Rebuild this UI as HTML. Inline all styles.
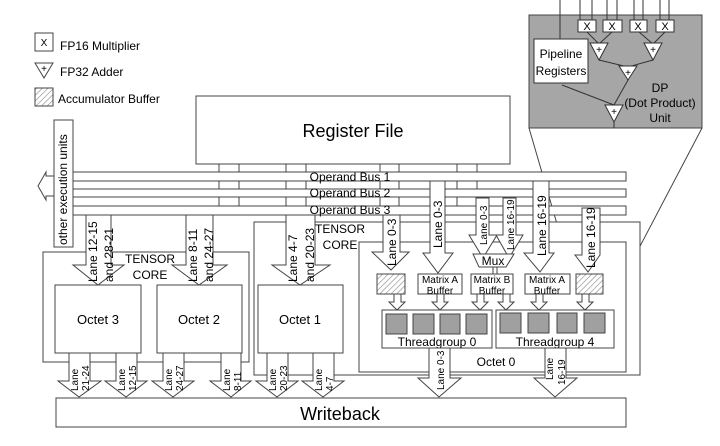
<!DOCTYPE html>
<html><head><style>html,body{margin:0;padding:0;background:#fff}svg{display:block}</style></head><body>
<svg width="720" height="446" viewBox="0 0 720 446" xmlns="http://www.w3.org/2000/svg" font-family="Liberation Sans, sans-serif" fill="none" stroke="#444" stroke-width="1">
<defs><pattern id="h" width="4" height="4" patternUnits="userSpaceOnUse" patternTransform="rotate(45)"><rect width="4" height="4" fill="#fff" stroke="none"/><line x1="0" y1="0" x2="0" y2="4" stroke="#888" stroke-width="1.2"/></pattern></defs>
<!-- legend -->
<rect x="35" y="33" width="18" height="18" fill="#fff"/><text x="44" y="46" font-size="10" fill="#000" stroke="none" text-anchor="middle">X</text>
<text x="60" y="50" font-size="12" fill="#000" stroke="none">FP16 Multiplier</text>
<polygon points="35,63 53,63 44,78" fill="#fff"/><text x="44" y="72" font-size="10" fill="#000" stroke="none" text-anchor="middle">+</text>
<text x="60" y="76" font-size="12" fill="#000" stroke="none">FP32 Adder</text>
<rect x="35" y="88" width="18" height="18" fill="url(#h)"/>
<text x="58" y="103" font-size="12" fill="#000" stroke="none">Accumulator Buffer</text>
<!-- DP unit -->
<line x1="529" y1="128" x2="583" y2="313"/><line x1="702" y1="128" x2="605" y2="313"/>
<rect x="529" y="15" width="173" height="113" fill="#a6a6a6"/>
<g stroke="#333">
<line x1="560" y1="0" x2="560" y2="40"/>
<line x1="580" y1="0" x2="580" y2="20"/><line x1="592" y1="0" x2="592" y2="20"/>
<line x1="607" y1="0" x2="607" y2="20"/><line x1="617" y1="0" x2="617" y2="20"/>
<line x1="634" y1="0" x2="634" y2="20"/><line x1="643" y1="0" x2="643" y2="20"/>
<line x1="660" y1="0" x2="660" y2="20"/><line x1="669" y1="0" x2="669" y2="20"/>
<line x1="587" y1="32" x2="599" y2="44"/><line x1="612" y1="32" x2="599" y2="44"/>
<line x1="639" y1="32" x2="653" y2="44"/><line x1="665" y1="32" x2="653" y2="44"/>
<line x1="599" y1="60" x2="628" y2="67"/><line x1="653" y1="60" x2="628" y2="67"/>
<line x1="628" y1="80" x2="614" y2="105"/><line x1="562" y1="85" x2="614" y2="105"/>
<line x1="614" y1="122" x2="614" y2="128"/>
</g>
<g fill="#fff" stroke="#333">
<rect x="578" y="20" width="18" height="12"/><rect x="603" y="20" width="19" height="12"/><rect x="630" y="20" width="17" height="12"/><rect x="656" y="20" width="18" height="12"/>
<polygon points="590,43 608,43 599,60"/><polygon points="644,43 662,43 653,60"/><polygon points="619,66 637,66 628,80"/><polygon points="605,105 623,105 614,122"/>
<rect x="534" y="39" width="54" height="44"/>
</g>
<g fill="#000" stroke="none" font-size="11" text-anchor="middle">
<text x="587" y="30">X</text><text x="612" y="30">X</text><text x="638" y="30">X</text><text x="665" y="30">X</text>
<text x="599" y="53" font-size="10">+</text><text x="653" y="53" font-size="10">+</text><text x="628" y="76" font-size="10">+</text><text x="614" y="115" font-size="10">+</text>
<text x="561" y="58" font-size="12">Pipeline</text><text x="561" y="75" font-size="12">Registers</text>
<text x="660" y="92" font-size="12">DP</text><text x="660" y="107" font-size="12">(Dot Product)</text><text x="660" y="122" font-size="12">Unit</text>
</g>
<!-- register file -->
<rect x="196" y="96" width="314" height="68" fill="#fff"/>
<text x="353" y="137" font-size="18" fill="#000" stroke="none" text-anchor="middle">Register File</text>
<!-- other exec -->
<rect x="54" y="120" width="19" height="127" fill="#fff"/>
<polygon points="54,176 46,176 46,172 38,186 46,200 46,196 54,196" fill="#fff"/>
<text transform="translate(67,245) rotate(-90)" font-size="12" fill="#000" stroke="none">other execution units</text>
<!-- buses -->
<g fill="#fff"><rect x="73" y="172" width="553" height="9"/><rect x="73" y="189" width="553" height="8"/><rect x="73" y="206" width="553" height="9"/></g>
<g>
<rect x="219" y="164" width="20" height="8"/><rect x="286" y="164" width="20" height="8"/><rect x="380" y="164" width="19" height="8"/><rect x="457" y="164" width="20" height="8"/>
<rect x="219" y="181" width="20" height="8"/><rect x="286" y="181" width="20" height="8"/><rect x="380" y="181" width="19" height="8"/><rect x="457" y="181" width="20" height="8"/>
<rect x="219" y="197" width="20" height="9"/><rect x="286" y="197" width="20" height="9"/><rect x="380" y="197" width="19" height="9"/><rect x="457" y="197" width="20" height="9"/>
</g>
<g fill="#000" stroke="none" font-size="12" text-anchor="middle">
<text x="350" y="181">Operand Bus 1</text><text x="350" y="197">Operand Bus 2</text><text x="350" y="214">Operand Bus 3</text>
</g>
<!-- tensor core boxes -->
<rect x="43" y="252" width="206" height="110" fill="#fff"/>
<rect x="254" y="222" width="386" height="153" fill="#fff"/>
<rect x="359" y="242" width="267" height="130" fill="#fff"/>
<g fill="#000" stroke="none" font-size="12" text-anchor="middle">
<text x="150" y="263">TENSOR</text><text x="150" y="279">CORE</text>
<text x="340" y="233">TENSOR</text><text x="340" y="249">CORE</text>
</g>
<!-- octets -->
<g fill="#fff"><rect x="55" y="285" width="86" height="68"/><rect x="157" y="285" width="85" height="68"/><rect x="258" y="285" width="85" height="68"/></g>
<g fill="#000" stroke="none" font-size="13" text-anchor="middle">
<text x="98" y="324">Octet 3</text><text x="199" y="324">Octet 2</text><text x="300" y="324">Octet 1</text>
</g>
<!-- input arrows to octets -->
<g fill="#fff">
<polygon points="86,215 111,215 111,265 124,265 98,285 73,265 86,265"/>
<polygon points="186,215 213,215 213,265 227,265 199,285 172,265 186,265"/>
<polygon points="286,215 315,215 315,265 330,265 300,285 272,265 286,265"/>
</g>
<g fill="#000" stroke="none" font-size="12">
<text transform="translate(97,282) rotate(-90)">Lane 12-15</text><text transform="translate(113,282) rotate(-90)">and 28-21</text>
<text transform="translate(197,282) rotate(-90)">Lane 8-11</text><text transform="translate(213,282) rotate(-90)">and 24-27</text>
<text transform="translate(297,282) rotate(-90)">Lane 4-7</text><text transform="translate(314,282) rotate(-90)">and 20-23</text>
</g>
<!-- octet 0 internals -->
<g fill="#fff">
<polygon points="383,215 400,215 400,252 409,252 391,270 372,252 383,252"/>
<polygon points="430,181 445,181 445,253 453,253 438,273 423,253 430,253"/>
<polygon points="476,198 489,198 489,235 497,235 483,258 469,235 476,235"/>
<polygon points="503,198 516,198 516,235 523,235 509,258 496,235 503,235"/>
<polygon points="533,181 549,181 549,253 554,253 540,272 524,253 533,253"/>
<polygon points="582,208 600,208 600,255 600,255 588,272 575,255 582,255"/>
<polygon points="473,254 514,254 506,267 479,267"/>
</g>
<line x1="493" y1="267" x2="493" y2="274"/><line x1="497" y1="267" x2="497" y2="274"/>
<g fill="#000" stroke="none" font-size="12">
<text transform="translate(396,266) rotate(-90)">Lane 0-3</text>
<text transform="translate(442,248) rotate(-90)">Lane 0-3</text>
<text transform="translate(487,245) rotate(-90)" font-size="10">Lane 0-3</text>
<text transform="translate(514,250) rotate(-90)" font-size="10">Lane 16-19</text>
<text transform="translate(546,256) rotate(-90)">Lane 16-19</text>
<text transform="translate(595,268) rotate(-90)">Lane 16-19</text>
<text x="493" y="265" text-anchor="middle" font-size="12">Mux</text>
</g>
<g fill="#fff">
<rect x="377" y="274" width="28" height="20" fill="url(#h)"/>
<rect x="576" y="274" width="27" height="20" fill="url(#h)"/>
<rect x="418" y="274" width="44" height="20"/><rect x="471" y="274" width="42" height="20"/><rect x="525" y="274" width="45" height="20"/>
</g>
<g fill="#000" stroke="none" font-size="10" text-anchor="middle">
<text x="440" y="283">Matrix A</text><text x="440" y="294">Buffer</text>
<text x="492" y="283">Matrix B</text><text x="492" y="294">Buffer</text>
<text x="547" y="283">Matrix A</text><text x="547" y="294">Buffer</text>
</g>
<g fill="#fff">
<polygon points="394,294 401,294 401,302 405,302 397,310 389,302 394,302"/>
<polygon points="437,294 444,294 444,302 448,302 440,310 432,302 437,302"/>
<polygon points="477,294 484,294 484,302 488,302 480,310 472,302 477,302"/>
<polygon points="503,294 510,294 510,302 514,302 506,310 498,302 503,302"/>
<polygon points="536,294 543,294 543,302 547,302 539,310 531,302 536,302"/>
<polygon points="582,294 589,294 589,302 593,302 585,310 577,302 582,302"/>
</g>
<rect x="382" y="310" width="110" height="38" fill="#fff"/><rect x="496" y="310" width="118" height="38" fill="#fff"/>
<g fill="#a0a0a0">
<rect x="386" y="314" width="21" height="20"/><rect x="413" y="314" width="21" height="20"/><rect x="440" y="314" width="20" height="20"/><rect x="466" y="314" width="21" height="20"/>
<rect x="500" y="313" width="21" height="20"/><rect x="528" y="313" width="21" height="20"/><rect x="557" y="313" width="20" height="20"/><rect x="584" y="313" width="21" height="20"/>
</g>
<g fill="#000" stroke="none" font-size="12" text-anchor="middle">
<text x="437" y="346">Threadgroup 0</text><text x="555" y="346">Threadgroup 4</text>
</g>
<!-- writeback -->
<rect x="56" y="398" width="570" height="29" fill="#fff"/>
<text x="340" y="420" font-size="18" fill="#000" stroke="none" text-anchor="middle">Writeback</text>
<g fill="#fff">
<polygon points="69,353 90,353 90,381 101,381 79,397 58,381 69,381"/>
<polygon points="116,353 137,353 137,381 147,381 126,397 105,381 116,381"/>
<polygon points="163,353 184,353 184,381 194,381 173,397 152,381 163,381"/>
<polygon points="221,353 241,353 241,381 251,381 231,397 210,381 221,381"/>
<polygon points="267,353 288,353 288,381 298,381 277,397 256,381 267,381"/>
<polygon points="313,353 334,353 334,381 344,381 323,397 302,381 313,381"/>
<polygon points="429,348 450,348 450,378 461,378 439,397 418,378 429,378"/>
<polygon points="545,348 566,348 566,378 577,378 555,397 534,378 545,378"/>
</g>
<text x="496" y="366" font-size="12" fill="#000" stroke="none" text-anchor="middle">Octet 0</text>
<g fill="#000" stroke="none" font-size="10">
<text transform="translate(78,391) rotate(-90)">Lane</text><text transform="translate(89,391) rotate(-90)">21-24</text>
<text transform="translate(125,391) rotate(-90)">Lane</text><text transform="translate(136,391) rotate(-90)">12-15</text>
<text transform="translate(172,391) rotate(-90)">Lane</text><text transform="translate(183,391) rotate(-90)">24-27</text>
<text transform="translate(230,391) rotate(-90)">Lane</text><text transform="translate(241,391) rotate(-90)">8-11</text>
<text transform="translate(276,391) rotate(-90)">Lane</text><text transform="translate(287,391) rotate(-90)">20-23</text>
<text transform="translate(322,391) rotate(-90)">Lane</text><text transform="translate(333,391) rotate(-90)">4-7</text>
<text transform="translate(444,390) rotate(-90)">Lane 0-3</text>
<text transform="translate(553,380) rotate(-90)">Lane</text><text transform="translate(565,385) rotate(-90)">16-19</text>
</g>
</svg>
</body></html>
